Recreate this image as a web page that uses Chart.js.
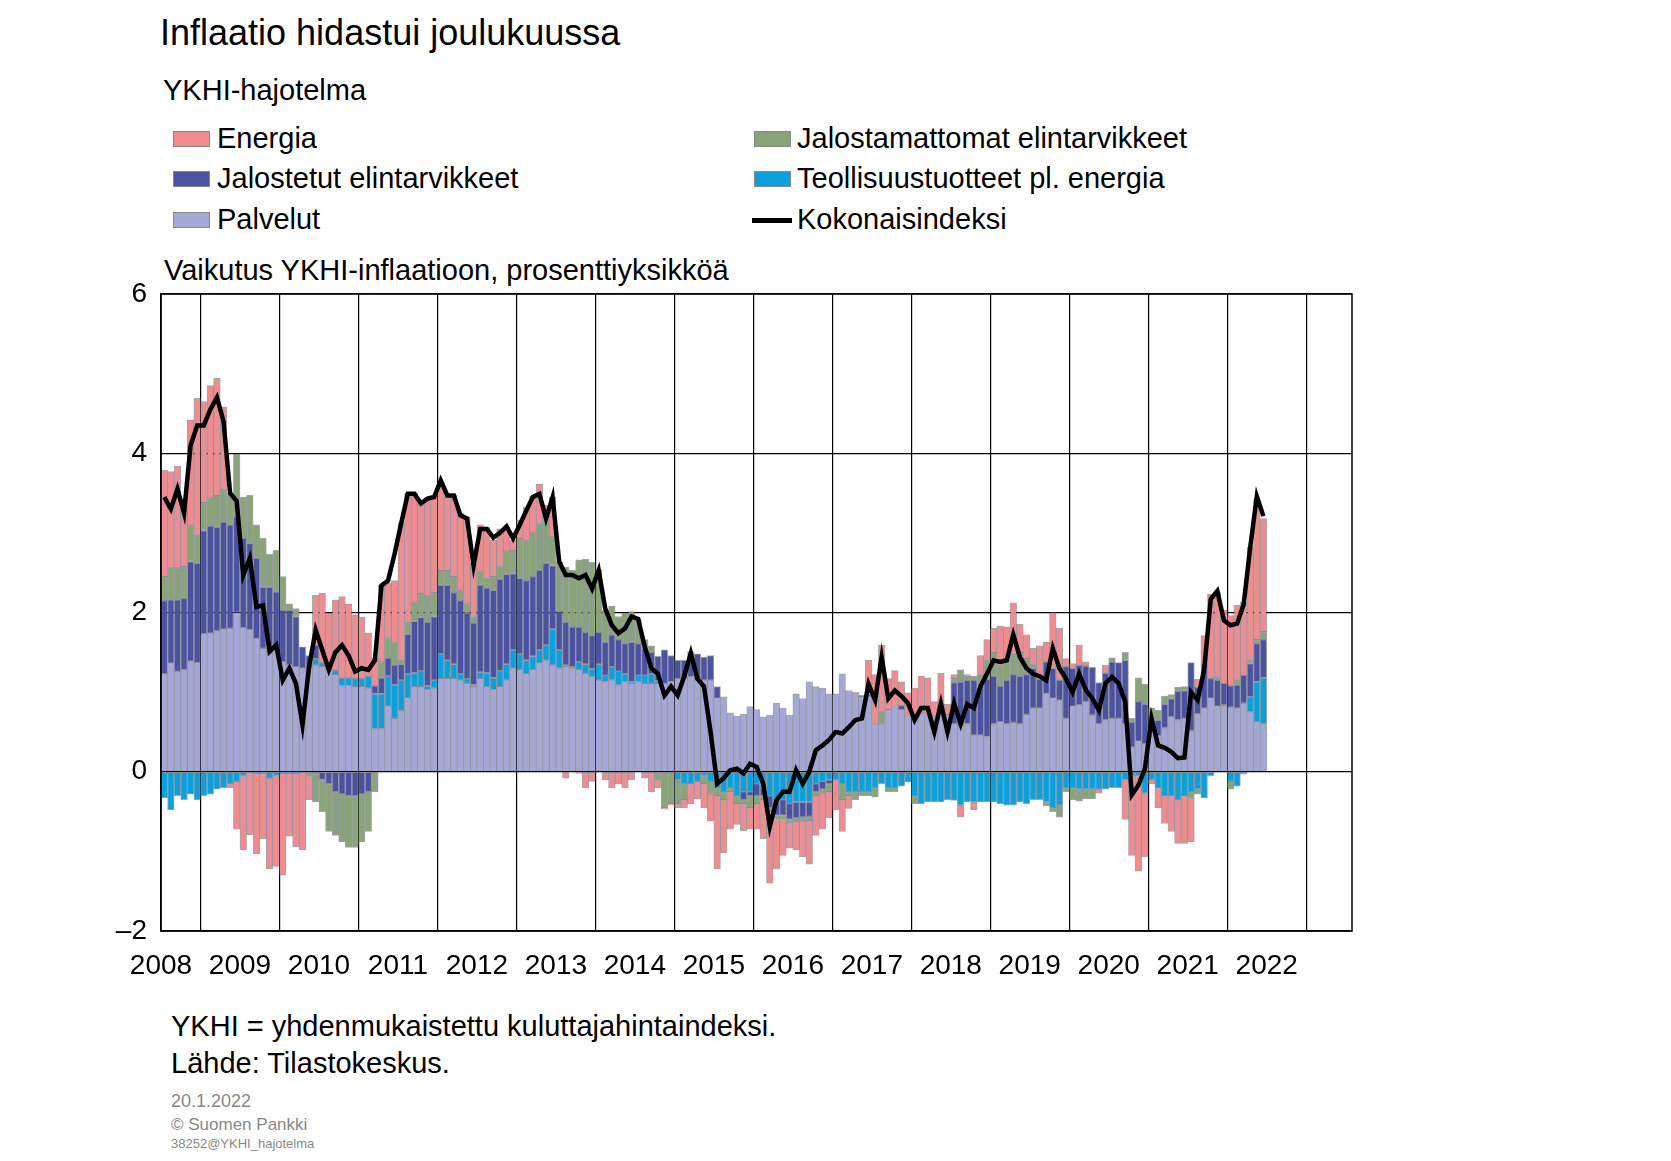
<!DOCTYPE html>
<html><head><meta charset="utf-8">
<script src="https://cdn.jsdelivr.net/npm/chart.js@4"></script>
<style>
body{margin:0;width:1671px;height:1161px;background:#fff;font-family:"Liberation Sans",Arial,sans-serif;position:relative;overflow:hidden}
.t{position:absolute;white-space:nowrap;color:#000}
.sw{position:absolute;width:37px;height:16px;box-sizing:border-box;border:1px solid #888}
.ln{position:absolute;width:40px;height:5px;background:#000}
</style></head><body>
<div class="t" style="left:160px;top:12px;font-size:36px">Inflaatio hidastui joulukuussa</div>
<div class="t" style="left:163px;top:74px;font-size:29px">YKHI-hajotelma</div>
<div class="sw" style="left:173px;top:131px;background:#f08c8f"></div><div class="t" style="left:217px;top:122px;font-size:29px">Energia</div>
<div class="sw" style="left:173px;top:171px;background:#4b53a1"></div><div class="t" style="left:217px;top:162px;font-size:29px">Jalostetut elintarvikkeet</div>
<div class="sw" style="left:173px;top:212px;background:#a4a8d6"></div><div class="t" style="left:217px;top:203px;font-size:29px">Palvelut</div>
<div class="sw" style="left:754px;top:131px;background:#8aa47a"></div><div class="t" style="left:797px;top:122px;font-size:29px">Jalostamattomat elintarvikkeet</div>
<div class="sw" style="left:754px;top:171px;background:#0aa0dc"></div><div class="t" style="left:797px;top:162px;font-size:29px">Teollisuustuotteet pl. energia</div>
<div class="ln" style="left:752px;top:218px"></div><div class="t" style="left:797px;top:203px;font-size:29px">Kokonaisindeksi</div>
<div class="t" style="left:164px;top:254px;font-size:29px">Vaikutus YKHI-inflaatioon, prosenttiyksikköä</div>
<div class="t" style="left:171px;top:1010px;font-size:29px">YKHI = yhdenmukaistettu kuluttajahintaindeksi.</div>
<div class="t" style="left:171px;top:1047px;font-size:29px">Lähde: Tilastokeskus.</div>
<div class="t" style="left:171px;top:1091px;font-size:18px;color:#888">20.1.2022</div>
<div class="t" style="left:171px;top:1115px;font-size:17px;color:#888">© Suomen Pankki</div>
<div class="t" style="left:171px;top:1136px;font-size:13px;color:#888">38252@YKHI_hajotelma</div>
<canvas id="c" width="1671" height="1161" style="position:absolute;left:0;top:0"></canvas>
<script>
const startYear = 2008;
const yTicks = [-2, 0, 2, 4, 6];
const yearLabels = ['2008','2009','2010','2011','2012','2013','2014','2015','2016','2017','2018','2019','2020','2021','2022'];
const palvelut = [1.23,1.36,1.26,1.28,1.39,1.37,1.73,1.74,1.77,1.79,1.80,2.0,
1.81,1.78,1.67,1.55,1.53,1.57,1.38,1.34,1.32,1.3,1.3,1.34,
1.32,1.3,1.22,1.08,1.08,1.07,1.07,1.05,0.54,0.54,0.82,0.67,
0.77,0.92,1.07,1.07,1.03,1.05,1.17,1.17,1.17,1.15,1.11,1.07,
1.17,1.07,1.03,1.07,1.15,1.3,1.28,1.23,1.28,1.36,1.4,1.34,
1.3,1.32,1.3,1.28,1.23,1.19,1.15,1.13,1.15,1.09,1.13,1.11,
1.13,1.11,1.11,1.11,1.11,1.13,1.17,1.17,1.19,1.15,1.15,1.15,
0.92,0.94,0.74,0.7,0.72,0.82,0.78,0.69,0.71,0.86,0.8,0.71,
0.98,0.92,1.13,1.07,1.05,0.98,0.98,1.23,1.02,0.98,0.94,0.94,
0.6,0.6,0.78,0.82,0.78,0.7,0.67,0.74,0.7,0.7,0.74,0.72,
0.6,0.58,0.6,0.46,0.46,0.44,0.6,0.63,0.6,0.62,0.6,0.72,
0.8,0.8,0.98,0.92,0.9,0.67,0.82,0.84,0.88,0.71,0.6,0.65,
0.67,0.67,0.6,0.31,0.38,0.35,0.5,0.45,0.55,0.69,0.65,0.67,
0.52,0.73,0.8,0.92,0.82,0.82,0.81,0.8,0.86,0.75,0.63,0.6];
const teollisuus = [-0.33,-0.48,-0.3,-0.35,-0.28,-0.35,-0.3,-0.28,-0.22,-0.2,-0.15,-0.12,
-0.05,0,-0.02,-0.02,-0.08,-0.05,-0.02,-0.02,-0.02,0,0,0.08,
0.05,0,0.05,0.1,0.1,0.1,0.1,0.15,0.44,0.44,0.38,0.42,
0.38,0.31,0.17,0.2,0.05,0.1,0.31,0.23,0.18,0.08,0.06,0.02,
0.08,0.17,0.15,0.2,0.2,0.23,0.2,0.17,0.17,0.17,0.19,0.45,
0.23,0.02,0.02,0.1,0.12,0.1,0.2,0.08,0.17,0.17,0.1,0.02,
0.08,0.1,0.12,0.03,0,0,-0.1,-0.15,-0.15,-0.12,-0.05,-0.12,
-0.2,-0.25,-0.2,-0.3,-0.25,-0.25,-0.15,-0.2,-0.3,-0.35,-0.35,-0.4,
-0.38,-0.38,-0.38,-0.15,-0.12,-0.1,-0.1,-0.15,-0.25,-0.25,-0.25,-0.25,
-0.2,-0.15,-0.2,-0.2,-0.18,-0.13,-0.3,-0.4,-0.38,-0.38,-0.38,-0.35,
-0.36,-0.42,-0.38,-0.38,-0.38,-0.38,-0.38,-0.4,-0.42,-0.42,-0.38,-0.4,
-0.35,-0.35,-0.38,-0.45,-0.42,-0.2,-0.2,-0.22,-0.22,-0.22,-0.22,-0.22,
-0.2,-0.2,-0.1,-0.05,-0.05,-0.27,-0.1,-0.2,-0.3,-0.3,-0.35,-0.3,
-0.25,-0.22,-0.33,-0.05,0,0.02,-0.12,-0.18,-0.03,0.19,0.5,0.58];
const jalostetut = [0.92,0.8,0.9,0.9,1.25,1.25,1.3,1.35,1.3,1.35,1.3,1.2,
1.12,1.09,1.01,0.77,0.79,0.69,0.65,0.69,0.63,0.27,0.16,0.17,
-0.1,-0.15,-0.25,-0.28,-0.3,-0.3,-0.28,-0.25,0.1,0.2,0.23,0.25,
0.2,0.5,0.65,0.67,0.8,0.8,0.86,0.94,0.9,0.92,0.82,0.78,
1.09,1.07,1.1,1.15,1.13,0.96,0.95,1.0,1.0,1.0,1.03,0.8,
0.48,0.54,0.5,0.44,0.4,0.42,0.4,0.42,0.4,0.4,0.38,0.5,
0.4,0.33,0.27,0.31,0.42,0.33,0.23,0.23,0.25,0.33,0.29,0.31,
0.15,0,0,0,-0.1,-0.05,-0.15,-0.1,-0.15,-0.2,-0.2,-0.2,
-0.2,-0.19,-0.18,-0.1,-0.1,-0.05,0,0,0,0,0.02,0.03,
0,0,0,0,0.05,0,0,0,0,0,0,0,
0.52,0.55,0.55,0.69,0.6,0.72,0.6,0.45,0.55,0.6,0.6,0.5,
0.5,0.36,0.4,0.38,0.25,0.65,0.48,0.5,0.45,0.6,0.52,0.59,
0.71,0.7,0.8,0.31,0.5,0.5,0.15,0.2,0.3,0.23,0.36,0.35,
0.85,0.33,0.56,0.25,0.33,0.27,0.27,0.29,0.35,0.42,0.48,0.48];
const jalostamattomat = [0.3,0.4,0.4,0.4,0.45,0.35,0.35,0.35,0.4,0.4,0.4,0.79,
0.52,0.6,0.42,0.61,0.41,0.52,0.42,0.08,0.1,0,-0.05,-0.38,
-0.4,-0.6,-0.55,-0.6,-0.65,-0.65,-0.6,-0.5,-0.25,0.2,0.25,0.29,
0.05,0.15,0.23,0.3,0.33,0.3,0.19,0.19,0.2,0.13,0.12,0.08,
0.17,0.13,0.17,0.17,0.29,0.29,0.5,0.5,0.55,0.6,0.52,0.36,
0.61,0.69,0.71,0.84,0.92,0.92,0.79,0.4,0.36,0.29,0.38,0.38,
0.31,0.12,0.08,-0.1,-0.45,-0.4,-0.3,-0.2,0.07,0,-0.1,-0.15,
-0.1,-0.1,-0.05,-0.1,-0.05,-0.15,-0.1,-0.05,-0.05,-0.05,-0.05,-0.05,
-0.05,-0.05,-0.05,-0.05,-0.05,-0.1,0,-0.2,-0.05,-0.1,-0.05,-0.05,
-0.12,0.15,-0.05,-0.05,0,0,-0.1,0,0,0,0,0,
0.05,0.15,0.05,0.05,0.15,0.25,0.3,0.25,0.25,0.25,0.3,0.2,
0.05,0,-0.05,-0.05,-0.15,-0.05,-0.15,-0.15,-0.12,-0.12,0,0,
0.05,0,0.1,0.05,0.3,0.25,0.15,0.12,0.1,0.05,0.05,0.05,
-0.08,-0.06,0,0,0.04,0,-0.1,0.06,0,0.04,0.05,0.1];
const energia = [1.34,1.21,1.28,0.85,1.33,1.72,1.27,1.41,1.47,1.04,-0.05,-0.6,
-0.93,-0.79,-1.01,-0.82,-1.14,-1.14,-1.28,-0.79,-0.92,-0.98,-0.3,0.63,
0.87,0.69,0.89,1.02,0.93,0.8,0.77,0.54,0.35,0.96,0.69,0.77,
1.73,1.62,1.38,1.14,1.23,1.2,1.1,0.94,1.02,0.97,1.09,0.67,
0.59,0.63,0.46,0.46,0.31,0.13,0.23,0.42,0.46,0.48,0.21,0.5,
0.02,-0.08,0,-0.02,-0.2,-0.12,0,-0.1,-0.2,-0.15,-0.2,-0.1,
0,-0.08,-0.25,-0.1,-0.02,-0.02,-0.05,-0.1,-0.25,-0.22,-0.3,-0.35,
-0.92,-0.67,-0.47,-0.26,-0.34,-0.27,-0.32,-0.49,-0.9,-0.62,-0.45,-0.31,
-0.35,-0.45,-0.55,-0.5,-0.45,-0.33,-0.38,-0.4,-0.16,0.02,0,0.43,
0.62,0.84,0.39,0.45,0.3,0.29,0.38,0.46,0.48,0.18,0.5,0.13,
0.05,-0.15,0.02,-0.1,0.25,0.25,0.3,0.5,0.42,0.65,0.35,0.3,
0.2,0.42,0.25,0.7,0.65,0.1,0.06,0.25,0.05,0,-0.05,0.1,
0,0,-0.5,-1.0,-1.2,-0.8,-0.05,-0.25,-0.35,-0.45,-0.55,-0.6,
-0.55,0.1,0.35,1.06,1.06,0.92,0.88,0.94,0.92,1.42,1.76,1.42];
const kokonaisindeksi = [3.45,3.3,3.55,3.25,4.1,4.35,4.35,4.55,4.7,4.4,3.5,3.4,
2.47,2.68,2.07,2.09,1.51,1.59,1.15,1.3,1.11,0.59,1.32,1.78,
1.53,1.28,1.5,1.59,1.46,1.26,1.3,1.28,1.4,2.34,2.4,2.74,
3.12,3.49,3.49,3.37,3.43,3.45,3.66,3.47,3.47,3.22,3.18,2.59,
3.05,3.05,2.94,3.0,3.08,2.93,3.1,3.28,3.45,3.49,3.18,3.45,
2.64,2.47,2.47,2.43,2.47,2.3,2.53,2.05,1.84,1.74,1.8,1.95,
1.92,1.57,1.3,1.23,0.96,1.07,0.96,1.2,1.49,1.17,1.07,0.5,
-0.15,-0.08,0.02,0.04,-0.02,0.1,0.06,-0.15,-0.69,-0.36,-0.25,-0.25,
0.02,-0.15,0.0,0.27,0.33,0.4,0.5,0.48,0.56,0.65,0.67,1.1,
0.9,1.44,0.92,1.02,0.95,0.86,0.65,0.8,0.8,0.5,0.86,0.5,
0.86,0.6,0.85,0.8,1.07,1.23,1.4,1.38,1.4,1.72,1.44,1.3,
1.23,1.2,1.15,1.55,1.3,1.17,1.0,1.23,1.03,0.92,0.77,1.11,
1.19,1.11,0.88,-0.29,-0.17,0.04,0.67,0.33,0.3,0.25,0.17,0.18,
1.0,0.9,1.28,2.17,2.27,1.9,1.84,1.86,2.1,2.82,3.46,3.21];

const pts = arr => arr.map((v,i)=>({x:startYear+(i+0.5)/12,y:v}));
const bar = (label,data,color)=>({type:'bar',label,data:pts(data),backgroundColor:color,borderColor:'rgba(90,90,110,0.55)',borderWidth:1,borderSkipped:false,barPercentage:1,categoryPercentage:1,order:1,yAxisID:'y'});
const frame = {id:'frame',afterDraw(ch){const a=ch.chartArea,c=ch.ctx;c.save();c.strokeStyle='#000';c.lineWidth=1.5;c.strokeRect(a.left,a.top,a.right-a.left,a.bottom-a.top);c.restore();}};
new Chart(document.getElementById('c'),{
 data:{datasets:[
  bar('Palvelut',palvelut,'#a4a8d6'),
  bar('Teollisuustuotteet pl. energia',teollisuus,'#0aa0dc'),
  bar('Jalostetut elintarvikkeet',jalostetut,'#4b53a1'),
  bar('Jalostamattomat elintarvikkeet',jalostamattomat,'#8aa47a'),
  bar('Energia',energia,'#f08c8f'),
  {type:'line',label:'Kokonaisindeksi',data:pts(kokonaisindeksi),borderColor:'#000',borderWidth:4.5,pointRadius:0,tension:0,order:0,yAxisID:'y2'}
 ]},
 options:{responsive:false,animation:false,devicePixelRatio:1,
  layout:{padding:{left:0,top:294,right:319,bottom:0}},
  plugins:{legend:{display:false},tooltip:{enabled:false}},
  scales:{
   x:{type:'linear',stacked:true,min:2008,max:2023.08,offset:false,
      afterBuildTicks:s=>{s.ticks=yearLabels.map(v=>({value:+v})).concat([{value:2023}]);},
      ticks:{autoSkip:false,maxRotation:0,padding:18,color:'#000',font:{size:28,family:'Liberation Sans'},callback:v=>yearLabels.includes(String(v))?String(v):''},
      grid:{color:'#000',lineWidth:1.2,drawTicks:false},border:{color:'#000',width:1.5},
      afterFit:s=>{s.height=230;}},
   y:{stacked:true,min:-2,max:6,
      afterBuildTicks:s=>{s.ticks=yTicks.map(v=>({value:v}));},
      ticks:{padding:14,color:'#000',font:{size:28,family:'Liberation Sans'},callback:v=>v<0?'\u2013'+Math.abs(v):String(v)},
      grid:{color:'#000',lineWidth:1.2,drawTicks:false},border:{color:'#000',width:1.5},
      afterFit:s=>{s.width=161;}},
   y2:{display:false,min:-2,max:6,stacked:false}
  }},
 plugins:[frame]
});
</script></body></html>
